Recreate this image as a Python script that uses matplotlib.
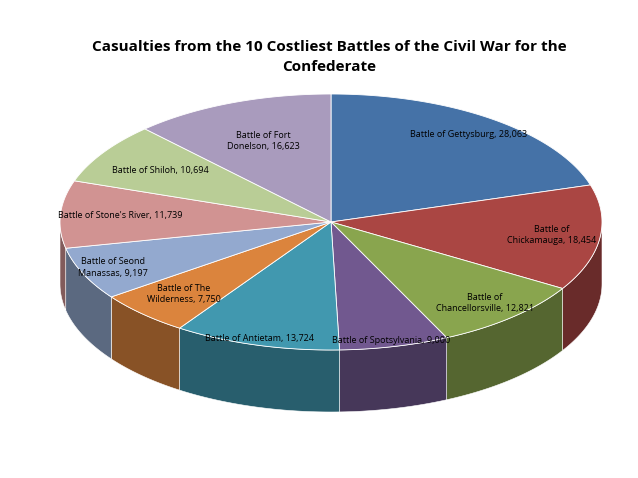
import numpy as np
import matplotlib
matplotlib.use("Agg")
import matplotlib.pyplot as plt
from matplotlib.patches import Polygon
from matplotlib.colors import to_rgb

plt.rcParams['font.family'] = ['Open Sans', 'DejaVu Sans']

battles = ["Battle of Gettysburg", "Battle of\nChickamauga", "Battle of\nChancellorsville",
           "Battle of Spotsylvania", "Battle of Antietam", "Battle of The\nWilderness",
           "Battle of Seond\nManassas", "Battle of Stone's River", "Battle of Shiloh",
           "Battle of Fort\nDonelson"]
casualties = [28063, 18454, 12821, 9000, 13724, 7750, 9197, 11739, 10694, 16623]
colors = ["#4572A7", "#AA4643", "#89A54E", "#71588F", "#4198AF",
          "#DB843D", "#93A9CF", "#D19392", "#B9CD96", "#A99BBD"]
label_r = [0.85, 0.82, 0.85, 0.95, 0.95, 0.78, 0.88, 0.78, 0.75, 0.68]

W, H = 638, 478
cx, cy, rx, ry, depth = 331, 222, 271, 128, 62

fig = plt.figure(figsize=(W / 100, H / 100), dpi=100)
ax = fig.add_axes([0, 0, 1, 1])
ax.set_xlim(0, W)
ax.set_ylim(H, 0)
ax.axis("off")


def pt(theta, r=1.0, dy=0.0):
    t = np.radians(theta)
    return cx + r * rx * np.sin(t), cy - r * ry * np.cos(t) + dy


total = sum(casualties)
bounds = np.concatenate([[0], np.cumsum(casualties) / total * 360])

# side walls (front half only)
for i, c in enumerate(colors):
    a0, a1 = max(bounds[i], 90), min(bounds[i + 1], 270)
    if a1 <= a0:
        continue
    th = np.linspace(a0, a1, 60)
    xs, ys = pt(th)
    poly = np.vstack([np.column_stack([xs, ys]),
                      np.column_stack([xs[::-1], ys[::-1] + depth])])
    dark = tuple(v * 0.62 for v in to_rgb(c))
    ax.add_patch(Polygon(poly, closed=True, facecolor=dark, edgecolor="white", lw=0.4))

# top faces
for i, c in enumerate(colors):
    th = np.linspace(bounds[i], bounds[i + 1], 80)
    xs, ys = pt(th)
    poly = np.vstack([[cx, cy], np.column_stack([xs, ys])])
    ax.add_patch(Polygon(poly, closed=True, facecolor=c, edgecolor="white", lw=0.6))

# labels
for i, name in enumerate(battles):
    mid = (bounds[i] + bounds[i + 1]) / 2
    x, y = pt(mid, label_r[i])
    ax.text(x, y, f"{name}, {casualties[i]:,}", ha="center", va="center",
            fontsize=6.5, color="black", linespacing=1.3)

ax.text(W / 2 + 10, 57, "Casualties from the 10 Costliest Battles of the Civil War for the\nConfederate",
        ha="center", va="center", fontsize=11, fontweight="bold", linespacing=1.5)

fig.savefig("out.png", dpi=100)
